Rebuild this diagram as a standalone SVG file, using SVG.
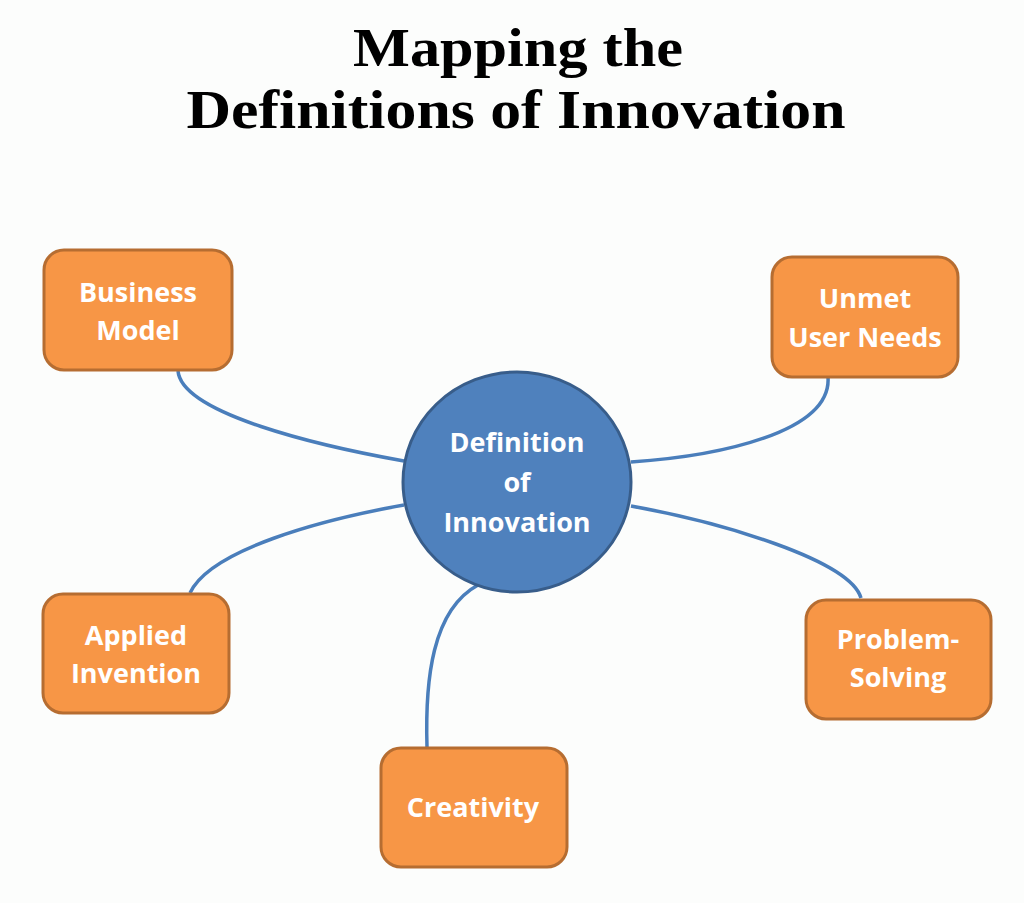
<svg xmlns="http://www.w3.org/2000/svg" width="1024" height="903" viewBox="0 0 1024 903">
<style>
.title{font-family:"Liberation Serif","Times New Roman",serif;font-weight:bold;font-size:54px;fill:#000;text-anchor:middle}
.box{fill:#f79646;stroke:#b66d31;stroke-width:3}
.hub{fill:#4f81bd;stroke:#385d8a;stroke-width:3}
.lbl{font-family:"Open Sans","Noto Sans",sans-serif;font-weight:bold;font-size:27px;fill:#fff;text-anchor:middle}
.conn{fill:none;stroke:#4a7ebb;stroke-width:3.5}
</style>
<rect width="1024" height="903" fill="#fcfdfc"/>
<g id="title">
<text class="title" x="518" y="66" textLength="330" lengthAdjust="spacingAndGlyphs">Mapping the</text>
<text class="title" x="516" y="128" textLength="659" lengthAdjust="spacingAndGlyphs">Definitions of Innovation</text>
</g>
<g id="connectors">
<path class="conn" d="M178,371 C182,414 320,446 404,461"/>
<path class="conn" d="M828,377 C832,432 720,456 631,462"/>
<path class="conn" d="M861,598 C850,560 720,522 631,506"/>
<path class="conn" d="M190,593 C210,550 320,520 404,505"/>
<path class="conn" d="M427,747 C425,680 432,610 478,585"/>
</g>
<g id="hub">
<ellipse class="hub" cx="517" cy="482" rx="114" ry="110"/>
<text class="lbl" x="517" y="452">Definition</text>
<text class="lbl" x="517" y="492">of</text>
<text class="lbl" x="517" y="532">Innovation</text>
</g>
<g id="business-model">
<rect class="box" x="44" y="250" width="188" height="120" rx="20"/>
<text class="lbl" x="138" y="302">Business</text>
<text class="lbl" x="138" y="340">Model</text>
</g>
<g id="unmet-user-needs">
<rect class="box" x="772" y="257" width="186" height="120" rx="20"/>
<text class="lbl" x="865" y="308">Unmet</text>
<text class="lbl" x="865" y="347">User Needs</text>
</g>
<g id="applied-invention">
<rect class="box" x="43" y="594" width="186" height="119" rx="20"/>
<text class="lbl" x="136" y="645">Applied</text>
<text class="lbl" x="136" y="683">Invention</text>
</g>
<g id="problem-solving">
<rect class="box" x="806" y="600" width="185" height="119" rx="20"/>
<text class="lbl" x="898" y="649">Problem-</text>
<text class="lbl" x="898" y="687">Solving</text>
</g>
<g id="creativity">
<rect class="box" x="381" y="748" width="186" height="119" rx="20"/>
<text class="lbl" x="473" y="817">Creativity</text>
</g>
</svg>
